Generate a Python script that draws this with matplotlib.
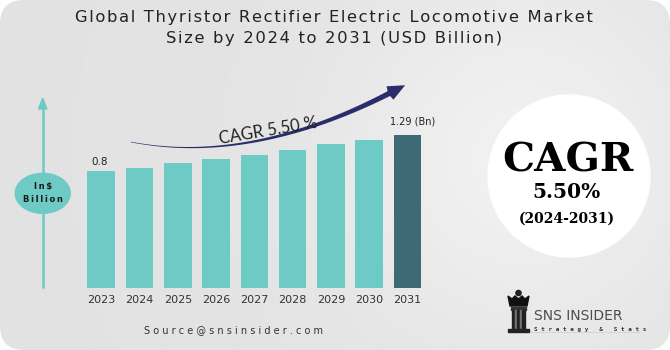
import numpy as np
import matplotlib
matplotlib.use("Agg")
import matplotlib.pyplot as plt
from matplotlib.patches import FancyBboxPatch, Ellipse, Circle, Polygon, Rectangle

# ---- data ----
years = ["2023", "2024", "2025", "2026", "2027", "2028", "2029", "2030", "2031"]
values = [0.80, 0.85, 0.91, 0.97, 1.02, 1.09, 1.16, 1.22, 1.29]
first_label = "0.8"
last_label = "1.29 (Bn)"
title_lines = ["Global Thyristor Rectifier Electric Locomotive Market",
               "Size by 2024 to 2031 (USD Billion)"]
cagr_text = "CAGR 5.50 %"
base_value = -0.76   # visual baseline of the bars in the reference


def spaced(s, sep="\u200a"):
    return sep.join(s)


W, H = 670, 350
fig = plt.figure(figsize=(W / 100, H / 100), dpi=100)
fig.patch.set_facecolor("white")

# ---- background / decoration axes in pixel coordinates ----
bg = fig.add_axes([0, 0, 1, 1])
bg.set_xlim(0, W)
bg.set_ylim(H, 0)
bg.axis("off")

panel = FancyBboxPatch((0, 0), W, H, boxstyle="round,pad=0,rounding_size=24",
                       facecolor="none", edgecolor="none")
bg.add_patch(panel)
xx, yy = np.meshgrid(np.linspace(0, 1, 200), np.linspace(0, 1, 100))
grad = 0.89 + 0.055 * np.exp(-((xx - 0.78) ** 2) / 0.08 - ((yy - 0.45) ** 2) / 0.3)
grad = np.clip(grad, 0, 1)
im = bg.imshow(np.dstack([grad, grad, grad]), extent=(0, W, H, 0), aspect="auto", zorder=0)
im.set_clip_path(panel)

# subtle dot texture
dx, dy = np.meshgrid(np.arange(6, W, 9), np.arange(6, H, 9))
bg.scatter(dx.ravel(), dy.ravel(), s=0.6, color="white", alpha=0.35, lw=0, zorder=0.5)

# title
bg.text(334, 17.5, spaced(title_lines[0]), ha="center", va="center", fontsize=11.8,
        color="#222222", family="DejaVu Sans")
bg.text(334, 38, spaced(title_lines[1]), ha="center", va="center", fontsize=11.8,
        color="#222222", family="DejaVu Sans")

# y-axis arrow and unit ellipse
teal = "#6dcac4"
bg.plot([42.7, 42.7], [287, 108], color=teal, lw=1.8, zorder=2)
bg.add_patch(Polygon([[42.7, 98], [38.5, 109], [46.9, 109]], closed=True, color=teal, zorder=2))
bg.add_patch(Ellipse((42.7, 193.3), 55, 40, color=teal, zorder=3))
bg.text(42.7, 187, spaced("In$", "\u2009"), ha="center", va="center", fontsize=6,
        fontweight="bold", color="#1a1a1a", zorder=4)
bg.text(42.7, 199.5, spaced("Billion", "\u2009"), ha="center", va="center", fontsize=6,
        fontweight="bold", color="#1a1a1a", zorder=4)

# CAGR circle
bg.add_patch(Circle((569, 176), 81, color="white", zorder=2))
bg.text(568, 160, "CAGR", ha="center", va="center", fontsize=29, fontweight="bold",
        family="DejaVu Serif", color="black", zorder=3)
bg.text(567, 192, "5.50%", ha="center", va="center", fontsize=14.5, fontweight="bold",
        family="DejaVu Serif", color="black", zorder=3)
bg.text(567, 218.5, "(2024-2031)", ha="center", va="center", fontsize=10, fontweight="bold",
        family="DejaVu Serif", color="black", zorder=3)

# source
bg.text(234, 330.5, "S o u r c e @ s n s i n s i d e r . c o m", ha="center", va="center",
        fontsize=7, color="#333333")

# logo (rook icon + text)
bg.add_patch(Circle((518.5, 293), 2.6, color="#222222", zorder=3))
bg.add_patch(Polygon([[508, 296], [512, 299], [515, 296], [518.5, 299], [522, 296],
                      [525, 299], [529, 296], [527, 306], [510, 306]], closed=True,
                     color="#111111", zorder=3))
bg.add_patch(Rectangle((511, 307), 15, 3, color="#333333", zorder=3))
for k, c in enumerate(["#222222", "#777777", "#222222", "#777777", "#222222"]):
    bg.add_patch(Rectangle((512 + k * 2.6, 310), 2.6, 20, color=c, zorder=3))
bg.add_patch(Rectangle((508, 329), 21, 3, color="#222222", zorder=3))
bg.plot([529, 640], [332, 332], color="#cccccc", lw=0.5, zorder=2)
bg.text(534, 315.5, "SNS INSIDER", ha="left", va="center", fontsize=10, color="#4d4d4d",
        zorder=3)
bg.text(534, 330, "S t r a t e g y   &   S t a t s", ha="left", va="center",
        fontsize=4.3, family="DejaVu Sans Mono", fontweight="bold", color="#333333", zorder=3)

# curved CAGR arrow (tapered)
P0 = np.array([131.0, 142.0]); P1 = np.array([250.0, 165.0]); P2 = np.array([390.0, 93.0])
t = np.linspace(0, 1, 120)[:, None]
curve = (1 - t) ** 2 * P0 + 2 * t * (1 - t) * P1 + t ** 2 * P2
tang = 2 * (1 - t) * (P1 - P0) + 2 * t * (P2 - P1)
tang /= np.linalg.norm(tang, axis=1, keepdims=True)
norm = np.column_stack([-tang[:, 1], tang[:, 0]])
wd = (0.3 + 2.4 * t[:, 0] ** 1.5)[:, None]
poly = np.vstack([curve + norm * wd, (curve - norm * wd)[::-1]])
navy = "#2b2c6b"
bg.add_patch(Polygon(poly, closed=True, color=navy, lw=0, zorder=3))
d = tang[-1]; n = norm[-1]
tip = P2 + d * 17
bg.add_patch(Polygon([tip, P2 + n * 7.5, P2 - d * 2, P2 - n * 7.5], closed=True,
                     color=navy, lw=0, zorder=3))
bg.text(268, 131, cagr_text, ha="center", va="center", fontsize=12, rotation=9.5,
        color="#222222", family="Lato", zorder=4)

# ---- bar chart axes ----
ax = fig.add_axes([78 / W, 1 - 288.3 / H, 352 / W, 188.3 / H])
ax.patch.set_alpha(0)
x = np.arange(len(years))
colors = [teal] * (len(years) - 1) + ["#3d6a74"]
heights = np.array(values) - base_value
ax.bar(x, heights, bottom=base_value, width=0.72, color=colors, zorder=2)
ax.set_xlim(-0.606, len(years) - 1 + 0.588)
ax.set_ylim(base_value, base_value + 188.3 * 0.01335)
ax.set_xticks(x)
ax.set_xticklabels(years, fontsize=8, color="#333333")
ax.tick_params(axis="x", length=0, pad=4.5)
ax.set_yticks([])
for s in ax.spines.values():
    s.set_visible(False)

ax.annotate(first_label, (x[0], values[0]), xytext=(-1, 7), textcoords="offset points",
            ha="center", va="center", fontsize=7.5, color="#222222")
ax.annotate(last_label, (x[-1], values[-1]), xytext=(4, 9.5), textcoords="offset points",
            ha="center", va="center", fontsize=7, color="#222222")

fig.savefig("out.png", dpi=100)
